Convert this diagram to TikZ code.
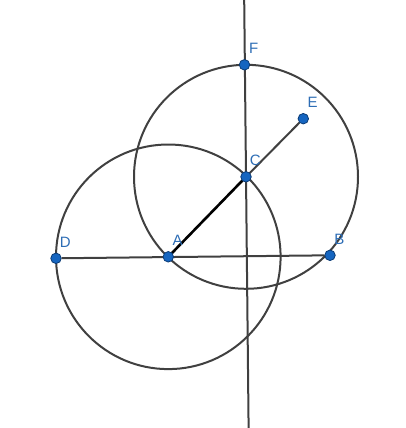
\documentclass[tikz,border=0pt]{standalone}
\usepackage{fontspec}
\setmainfont{Liberation Sans}
\definecolor{ptblue}{HTML}{1565C0}
\definecolor{ptedge}{HTML}{0B3B75}
\definecolor{lblblue}{HTML}{2D6DB5}
\definecolor{lngray}{HTML}{404040}
\tikzset{pt/.style={circle,draw=ptedge,fill=ptblue,line width=0.8pt,inner sep=0pt,minimum size=10.5pt},
	lbl/.style={text=lblblue,font=\fontsize{15}{15}\selectfont,inner sep=0pt,anchor=center,label distance=13pt}}

\begin{document}
\begin{tikzpicture}[x=1pt,y=-1pt]
	\useasboundingbox (0,0) rectangle (405,428);
	\coordinate (A) at (168.3,256.8);
	\coordinate (C) at (246,176.8);
	\coordinate (top) at (244.2,0);
	\coordinate (bot) at (248.6,428);

	\draw[lngray,line width=2pt] (A) circle[radius=112.3];
	\draw[lngray,line width=2pt] (C) circle[radius=112];
	\draw[lngray,line width=2pt] (top) -- (bot);

	\node[pt,label={[lbl]60:D}](D) at (56,258.3){};
	\node[pt,label={[lbl]60:B}](B) at (330,255.3){};
	\node[pt,label={[lbl]60:E}](E) at (303.3,118.7){};
	\node[pt,label={[lbl]60:F}](F) at (244.5,64.8){};

	\draw[lngray,line width=2pt] (D) -- (B);
	\draw[lngray,line width=2pt] (C) -- (E);
	\draw[black,line width=2.6pt] (A) -- (C);

	\node[pt,label={[lbl]60:A}](Apt) at (A){};
	\node[pt,label={[lbl]60:C}](Cpt) at (C){};
\end{tikzpicture}
\end{document}
